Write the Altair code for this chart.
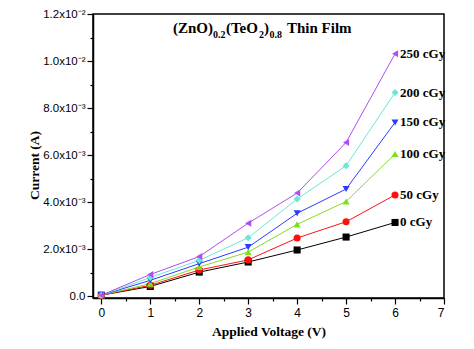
import altair as alt
import pandas as pd

voltage = [0, 1, 2, 3, 4, 5, 6]
doses = ["0 cGy", "50 cGy", "100 cGy", "150 cGy", "200 cGy", "250 cGy"]
cur_0 = [0.05e-3, 0.42e-3, 1.03e-3, 1.46e-3, 1.97e-3, 2.52e-3, 3.14e-3]
cur_50 = [0.05e-3, 0.47e-3, 1.12e-3, 1.55e-3, 2.48e-3, 3.17e-3, 4.31e-3]
cur_100 = [0.05e-3, 0.54e-3, 1.25e-3, 1.88e-3, 3.06e-3, 4.03e-3, 6.05e-3]
cur_150 = [0.05e-3, 0.68e-3, 1.39e-3, 2.09e-3, 3.53e-3, 4.56e-3, 7.39e-3]
cur_200 = [0.05e-3, 0.80e-3, 1.53e-3, 2.49e-3, 4.14e-3, 5.55e-3, 8.66e-3]
cur_250 = [0.05e-3, 0.93e-3, 1.69e-3, 3.11e-3, 4.39e-3, 6.54e-3, 10.31e-3]
series = [cur_0, cur_50, cur_100, cur_150, cur_200, cur_250]
colors = ["#000000", "#ff1010", "#7ee01c", "#2a3cff", "#6ce6d8", "#b04ef0"]
shapes = ["square", "circle", "triangle-up", "triangle-down", "diamond", "triangle-left"]

rows = []
for d, vals in zip(doses, series):
    for v, c in zip(voltage, vals):
        rows.append({"V": v, "I": c, "dose": d})
df = pd.DataFrame(rows)
lab = pd.DataFrame({"V": [6] * 6, "I": [s[-1] for s in series], "dose": doses})

xs = alt.X("V:Q", scale=alt.Scale(domain=[-0.17, 7], nice=False, zero=False),
           axis=alt.Axis(title="Applied Voltage (V)",
                         values=[i * 0.5 for i in range(15)],
                         labelExpr="datum.value % 1 == 0 ? datum.value : ''",
                         tickSize={"condition": {"test": "datum.value % 1 == 0", "value": 6}, "value": 3},
                         grid=False))
ylab = ("round(datum.value*1000) % 2 ? '' : (round(datum.value*1000) == 0 ? '0.0' : "
        "(round(datum.value*1000) < 10 ? format(round(datum.value*1000), '.1f') + 'x10⁻³' : "
        "format(round(datum.value*1000)/10, '.1f') + 'x10⁻²'))")
ys = alt.Y("I:Q", scale=alt.Scale(domain=[-0.00007, 0.012], nice=False, zero=False),
           axis=alt.Axis(title="Current (A)", values=[i * 0.001 for i in range(13)],
                         labelExpr=ylab, titleX=-59, titleY=151, titleBaseline="middle",
                         tickSize={"condition": {"test": "round(datum.value*1000) % 2 == 0", "value": 6}, "value": 3},
                         grid=False))
col = alt.Color("dose:N", scale=alt.Scale(domain=doses, range=colors), legend=None)
shp = alt.Shape("dose:N", scale=alt.Scale(domain=doses, range=shapes), legend=None)

lines = alt.Chart(df).mark_line(strokeWidth=1).encode(x=xs, y=ys, color=col, detail="dose:N")
pts = alt.Chart(df).mark_point(filled=True, size=50, opacity=1).encode(x=xs, y=ys, color=col, shape=shp)
labels = alt.Chart(lab).mark_text(align="left", dx=5, font="Liberation Serif", fontWeight="bold",
                                  fontSize=13, color="black").encode(x=xs, y=ys, text="dose:N")

title_parts = [
    ("(ZnO)", 80, 19, 15),
    ("0.2", 120, 24, 10),
    ("(TeO", 133, 19, 15),
    ("2", 166, 24, 10),
    (")", 171, 19, 15),
    ("0.8", 176.5, 24, 10),
    ("Thin Film", 194, 19, 15),
]
tlayers = [
    alt.Chart(pd.DataFrame({"t": [t]})).mark_text(align="left", baseline="alphabetic", font="Liberation Serif",
                                                 fontWeight="bold", fontSize=fs, color="black")
    .encode(x=alt.value(px), y=alt.value(py), text="t:N")
    for t, px, py, fs in title_parts
]

chart = alt.layer(lines, pts, labels, *tlayers).properties(
    width=351, height=284,
    autosize=alt.AutoSizeParams(type="none"),
    padding={"left": 93, "top": 14, "right": 30, "bottom": 51},
).configure_view(stroke="black", strokeWidth=1.5).configure_axis(
    domainColor="black", domainWidth=1.5, tickColor="black", tickWidth=1.2,
    labelFont="Liberation Sans", labelFontSize=11.5, labelColor="black",
    titleFont="Liberation Serif", titleFontSize=13.5, titleFontWeight="bold", titleColor="black",
).configure_axisX(titlePadding=6, labelPadding=3, labelFontSize=12).configure_axisY(labelPadding=2)

chart.save("out.html", embed_options={"renderer": "svg", "actions": False})
